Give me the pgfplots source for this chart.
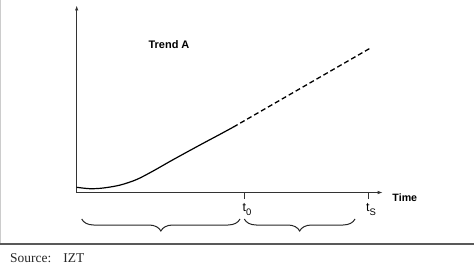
\documentclass[border=0pt]{standalone}
\usepackage{fontspec}
\setmainfont{Liberation Sans}
\newfontfamily\srcfont{Liberation Serif}
\usepackage{pgfplots}
\pgfplotsset{compat=1.18}
\usetikzlibrary{decorations.pathreplacing,arrows.meta}
\newcommand{\sub}[1]{\raisebox{-4bp}{\fontsize{9.5}{10}\selectfont #1}}

\begin{document}
\begin{tikzpicture}[x=1bp,y=1bp]
\useasboundingbox (0,0) rectangle (474,274);
\draw[gray!40, line width=0.8bp] (0.4,30) -- (0.4,274);
\draw[black!65, line width=1.1bp] (0,30) -- (474,30);
\node[anchor=base west, font=\srcfont\fontsize{13.5}{16}\selectfont, text=black!85, inner sep=0] at (10,11.7) {Source:\hspace{0.9em}IZT};
\begin{axis}[
  at={(76.7bp,81.5bp)}, anchor=south west,
  x=1bp, y=1bp,
  xmin=0, xmax=306, ymin=0, ymax=187,
  enlargelimits=false,
  axis lines=left,
  axis line style={black!80, line width=0.9bp, -{Latex[length=5bp,width=3.5bp]}},
  ytick=\empty,
  xtick={167.3,291.3},
  xticklabels={t\sub{0}, t\sub{S}},
  tick style={black!80, line width=0.9bp},
  tick align=outside,
  major tick length=6.5bp,
  xticklabel style={font=\fontsize{12.5}{14}\selectfont, xshift=3bp, yshift=-1bp},
  clip=false,
]
\addplot[black, line width=1.2bp, smooth] coordinates {
  (0,5.2) (13.3,3.8) (26.6,4.5) (43.3,7.4) (60,13) (76.6,21.6)
  (93.3,31.1) (110,40.3) (126.6,49.3) (143.3,58.2) (156.6,65.4)
};
\addplot[black, line width=1.3bp, dash pattern=on 5bp off 3bp] coordinates {
  (156.6,65.4) (293.3,144.2)
};
\node[font=\bfseries\fontsize{11}{13}\selectfont] at (axis cs:92.3,147.5) {Trend A};
\node[font=\bfseries\fontsize{10.7}{13}\selectfont] at (axis cs:328.1,-4.8) {Time};
\draw[black!85, line width=1bp, decorate, decoration={brace, mirror, amplitude=12bp}]
  (axis cs:5,-26.5) -- (axis cs:163.3,-26.5);
\draw[black!85, line width=1bp, decorate, decoration={brace, mirror, amplitude=12bp}]
  (axis cs:167.6,-26.5) -- (axis cs:278.3,-26.5);
\end{axis}
\end{tikzpicture}
\end{document}
